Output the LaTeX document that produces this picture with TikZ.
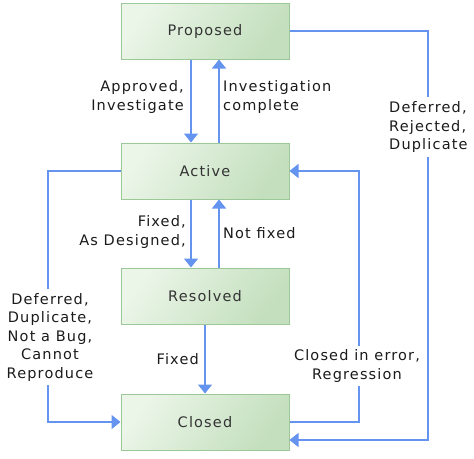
\documentclass[tikz,border=0pt]{standalone}
\usepackage{fontspec}
\setmainfont{DejaVu Sans}[LetterSpace=8]
\usetikzlibrary{arrows.meta}
\definecolor{boxlight}{HTML}{EBF5E8}
\definecolor{boxdark}{HTML}{C3DFBD}
\definecolor{boxedge}{HTML}{9CC898}
\definecolor{flow}{HTML}{6494F0}
\definecolor{boxtext}{HTML}{333333}
\definecolor{labtext}{HTML}{1A1A1A}
\tikzset{
  state/.style={draw=boxedge, line width=1pt, minimum width=168pt, minimum height=56pt,
    inner sep=0pt, top color=boxlight, bottom color=boxdark, shading angle=55,
    text=boxtext, font=\fontsize{14.5}{18.5}\selectfont},
  lab/.style={text=labtext, font=\fontsize{14.5}{18.5}\selectfont, inner sep=0pt},
  flowline/.style={draw=flow, line width=1.3pt},
  flowarrow/.style={flowline, -{Triangle[width=14pt,length=9pt]}}
}
\begin{document}
\begin{tikzpicture}[x=1pt,y=-1pt]
\useasboundingbox (0,0) rectangle (474,458);
\node[state] (P) at (205,31) {Proposed};
\node[state] (A) at (205,171) {Active};
\node[state] (R) at (205,296) {Resolved};
\node[state] (C) at (205,422) {Closed};

% labels
\node[lab, anchor=east, align=right] (lapp) at (184,97) {Approved,\\Investigate};
\node[lab, anchor=west, align=left] (linv) at (223,97) {Investigation\\complete};
\node[lab, anchor=east, align=right] (lfix) at (186,232) {Fixed,\\As Designed,};
\node[lab, anchor=west, align=left] (lnot) at (223,233) {Not fixed};
\node[lab, anchor=east] (lfx2) at (199,359) {Fixed};
\node[lab, align=center, inner ysep=4pt] (ldef) at (50,337) {Deferred,\\Duplicate,\\Not a Bug,\\Cannot\\Reproduce};
\node[lab, align=center, inner ysep=4pt] (lerr) at (357,366) {Closed in error,\\Regression};
\node[lab, anchor=west, align=left, inner ysep=4pt] (lrej) at (389,127) {Deferred,\\Rejected,\\Duplicate};

% corner coordinates
\coordinate (l1) at (48,171);
\coordinate (l2) at (48,422);
\coordinate (r1) at (359,171);
\coordinate (r2) at (359,422);
\coordinate (o1) at (428,31);
\coordinate (o2) at (428,440);

% vertical arrows
\draw[flowarrow] ([xshift=-14pt]P.south) -- ([xshift=-14pt]A.north);
\draw[flowarrow] ([xshift=14pt]A.north) -- ([xshift=14pt]P.south);
\draw[flowarrow] ([xshift=-14pt]A.south) -- ([xshift=-14pt]R.north);
\draw[flowarrow] ([xshift=14pt]R.north) -- ([xshift=14pt]A.south);
\draw[flowarrow] (R.south) -- (C.north);

% left loop
\draw[flowline] (A.west) -- (l1) -- (l1 |- ldef.north);
\draw[flowarrow] (l2 |- ldef.south) -- (l2) -- (C.west);

% right inner loop
\draw[flowline] (C.east) -- (r2) -- (r2 |- lerr.south);
\draw[flowarrow] (r1 |- lerr.north) -- (r1) -- (A.east);

% outer loop
\draw[flowline] (P.east) -- (o1) -- (o1 |- lrej.north);
\draw[flowarrow] (o2 |- lrej.south) -- (o2) -- ([yshift=-18pt]C.east);
\end{tikzpicture}
\end{document}
